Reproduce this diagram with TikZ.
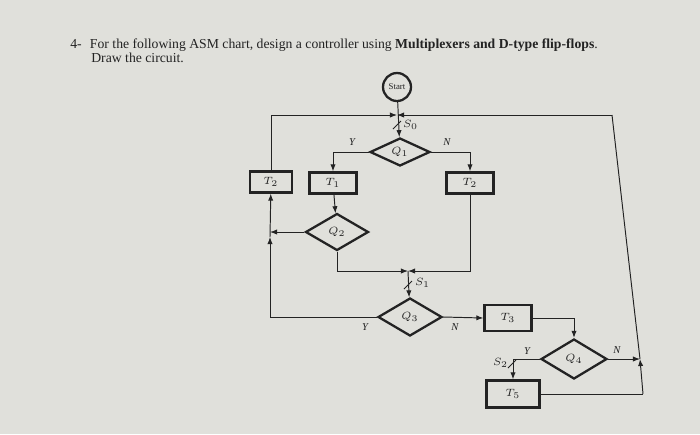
\documentclass[tikz,border=0pt]{standalone}
\usepackage{fontspec}
\setmainfont{Liberation Serif}
\usetikzlibrary{shapes.geometric,arrows.meta}
\definecolor{paper}{RGB}{224,224,219}
\definecolor{ink}{RGB}{35,35,35}
\begin{document}
\begin{tikzpicture}[x=0.02cm,y=-0.02cm,draw=ink,color=ink]

                \tikzset{state/.style = {shape=rectangle,draw,line width=1.3pt,font=\fontsize{5.8}{6}\selectfont}}
                \tikzset{decision/.style = {shape=diamond,draw,line width=1.3pt,inner sep=0pt,font=\fontsize{5.8}{6}\selectfont}}
                \tikzset{edge/.style = {-{Latex[length=4pt,width=3pt]},line width=0.55pt}}
                \tikzset{wire/.style = {line width=0.55pt}}
                \tikzset{lbl/.style = {font=\fontsize{6}{7}\selectfont\itshape,inner sep=1pt}}

                \fill[paper] (0,0) rectangle (700,434);
                \useasboundingbox (0,0) rectangle (700,434);

                \node[anchor=base west,inner sep=0pt,font=\fontsize{7.8}{9}\selectfont] (q) at (70,48)
                  {4-\hspace{0.6em}For the following ASM chart, design a controller using \textbf{Multiplexers and D-type flip-flops}.};
                \node[anchor=base west,inner sep=0pt,font=\fontsize{7.8}{9}\selectfont] (qq) at (91,62) {Draw the circuit.};

                \node[shape=circle,draw,line width=1.3pt,minimum size=0.56cm,inner sep=0pt,font=\fontsize{5}{6}\selectfont] (start) at (397,87) {Start};
                \node[decision,minimum width=1.2cm,minimum height=0.56cm] (q1) at (400,152) {$Q_1$};
                \node[state,minimum width=0.84cm,minimum height=0.4cm] (t2a) at (271,182) {$T_2$};
                \node[state,minimum width=0.94cm,minimum height=0.42cm] (t1) at (333,183) {$T_1$};
                \node[state,minimum width=0.94cm,minimum height=0.42cm] (t2b) at (470,183) {$T_2$};
                \node[decision,minimum width=1.26cm,minimum height=0.74cm] (q2) at (337,232) {$Q_2$};
                \node[decision,minimum width=1.28cm,minimum height=0.76cm] (q3) at (410,317) {$Q_3$};
                \node[state,minimum width=0.94cm,minimum height=0.52cm] (t3) at (508,318) {$T_3$};
                \node[decision,minimum width=1.32cm,minimum height=0.8cm] (q4) at (574,359) {$Q_4$};
                \node[state,minimum width=1.06cm,minimum height=0.54cm] (t5) at (513,394) {$T_5$};

                \coordinate (j0) at (397,115);
                \coordinate (j1) at (408,271);
                \coordinate (lm) at (270,237);
                \coordinate (lq) at (270,232);
                \coordinate (rt) at (612,115);
                \coordinate (rb) at (640,359);
                \coordinate (rbb) at (643,394);

                % top entry S0
                \draw[edge] (start) -- (q1);
                \draw[edge] (t2a) |- (j0);
                \draw[wire] (rb) -- (rt);
                \draw[edge] (rt) -- (j0);
                \draw[wire] (393,129) -- (401,121);
                \node[lbl,anchor=west] (s0) at (401,125) {$S_0$};

                % Q1
                \draw[edge] (q1.west) -| (t1.north);
                \draw[edge] (q1.east) -| (t2b.north);
                \node[lbl] (y1) at (352,142) {Y};
                \node[lbl] (n1) at (447,142) {N};

                % Q2
                \draw[edge] (t1) -- (q2);
                \draw[edge] (q2.west) -- (lq);
                \draw[edge] (q2.south) |- (j1);
                \draw[edge] (t2b.south) |- (j1);

                % S1 and Q3
                \draw[edge] (j1) -- (q3);
                \draw[wire] (404,289) -- (412,281);
                \node[lbl,anchor=west] (s1) at (413,283) {$S_1$};
                \draw[edge] (q3.west) -| (lm);
                \draw[edge] (lm) -- (t2a);
                \draw[edge] (q3.east) -- (t3.west);
                \node[lbl] (y3) at (365,327) {Y};
                \node[lbl] (n3) at (455,327) {N};

                % Q4
                \draw[edge] (t3.east) -| (q4.north);
                \draw[edge] (q4.west) -| (t5.north);
                \draw[wire] (508,368) -- (516,360);
                \node[lbl,anchor=east] (s2) at (510,363) {$S_2$};
                \node[lbl] (y4) at (527,351) {Y};
                \node[lbl] (n4) at (617,350) {N};
                \draw[edge] (q4.east) -- (rb);
                \draw[wire] (t5.east) -- (rbb);
                \draw[edge] (rbb) -- (rb);

            \end{tikzpicture}
\end{document}
